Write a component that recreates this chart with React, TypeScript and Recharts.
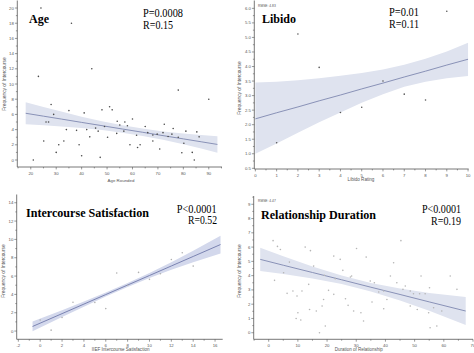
import React from 'react';
import { ComposedChart, Area, Line, Scatter, XAxis, YAxis } from 'recharts';

const SANS = '"Liberation Sans", Arial, sans-serif';
const SERIF = '"Liberation Serif", "Times New Roman", serif';
const AXIS = '#555';
const BORDER = '#b5b5b5';

// ---------- Panel 1: Age ----------
const ageX = [24, 36, 23, 44, 78, 90, 28, 51, 48, 52, 35, 29, 41, 26, 27, 60, 54, 57, 58, 55, 49, 72.5, 65, 76, 34, 42, 38, 45.5, 46.5, 81, 85.3, 56.6, 53.8, 66, 69.7, 68, 72, 74, 75.5, 86.2, 78, 61.6, 43.2, 50.2, 25.1, 33, 68, 80.2, 31, 39, 59, 63, 62, 30, 70.7, 79.4, 83.5, 40, 47.3, 21, 84.3];
const ageY = [20, 18, 11, 12, 9.2, 8, 7.3, 7, 6.6, 6.6, 6.5, 6, 6.2, 5, 5, 5.4, 5.1, 5, 4.5, 4.6, 4.4, 4.7, 4.4, 4.15, 4, 4, 3.9, 4.2, 3.8, 3.8, 3.7, 3.8, 3.5, 3.6, 3.4, 3.3, 3.6, 3.1, 3.4, 3.05, 3, 3.25, 3.05, 3, 2.5, 2.5, 2.5, 2.2, 2, 2, 2, 2, 1.65, 1, 1.45, 0.95, 1, 0.57, 0.35, 0, 0];
const ageFitX = [18, 25, 32, 40, 48, 56, 64, 72, 80, 87, 93.4];
const ageFit = [6.15, 5.77, 5.39, 4.95, 4.52, 4.08, 3.65, 3.21, 2.78, 2.4, 2.05];
const ageLo = [4.7, 4.57, 4.41, 4.2, 3.94, 3.6, 3.17, 2.66, 2.08, 1.52, 0.97];
const ageHi = [7.6, 6.97, 6.37, 5.7, 5.1, 4.56, 4.13, 3.76, 3.48, 3.28, 3.13];
const ageXTicks = [15, 20, 25, 30, 35, 40, 45, 50, 55, 60, 65, 70, 75, 80, 85, 90, 95];
const ageXMajor = [20, 30, 40, 50, 60, 70, 80, 90];
const ageYTicks = [0, 1, 2, 3, 4, 5, 6, 7, 8, 9, 10, 11, 12, 13, 14, 15, 16, 17, 18, 19, 20];
const ageYMajor = [0, 2, 4, 6, 8, 10, 12, 14, 16, 18, 20];

// ---------- Panel 2: Libido ----------
const libX = [1, 2, 3, 4, 5, 6, 7, 8, 9];
const libY = [1.38, 5.12, 3.97, 2.42, 2.6, 3.5, 3.05, 2.85, 5.9];
const libFitX = [0, 1, 2, 3, 4, 5, 6, 7, 8, 9, 10];
const libFit = [2.2, 2.41, 2.61, 2.82, 3.02, 3.23, 3.43, 3.64, 3.84, 4.05, 4.25];
const libLo = [1.0, 1.35, 1.72, 2.08, 2.42, 2.75, 3.05, 3.3, 3.48, 3.6, 3.67];
const libHi = [3.45, 3.48, 3.53, 3.6, 3.68, 3.78, 3.9, 4.06, 4.27, 4.52, 4.82];
const libXTicks = [0, 0.5, 1, 1.5, 2, 2.5, 3, 3.5, 4, 4.5, 5, 5.5, 6, 6.5, 7, 7.5, 8, 8.5, 9, 9.5, 10];
const libXMajor = [0, 1, 2, 3, 4, 5, 6, 7, 8, 9, 10];
const libYTicks = [0.5, 0.75, 1, 1.25, 1.5, 1.75, 2, 2.25, 2.5, 2.75, 3, 3.25, 3.5, 3.75, 4, 4.25, 4.5, 4.75, 5, 5.25, 5.5, 5.75, 6];
const libYMajor = [0.5, 1, 1.5, 2, 2.5, 3, 3.5, 4, 4.5, 5, 5.5, 6];

// ---------- Panel 3: Intercourse Satisfaction ----------
const satX = [0, 1, 2, 3, 5, 6, 7, 8, 9, 10, 11, 12, 13, 14];
const satY = [1.2, 0.1, 1.48, 3.15, 3.12, 2.45, 6.33, 5.0, 6.4, 5.64, 6.25, 7.8, 8.54, 7.09];
const satFitX = [-0.7, 2, 4, 6, 8, 10, 12, 14, 16.5];
const satFit = [0.5, 1.9, 2.94, 3.98, 5.02, 6.06, 7.1, 8.14, 9.44];
const satLo = [-0.03, 1.52, 2.66, 3.76, 4.8, 5.78, 6.68, 7.52, 8.47];
const satHi = [1.03, 2.28, 3.22, 4.2, 5.24, 6.34, 7.52, 8.76, 10.41];
const satXTicks = [-2, -1, 0, 1, 2, 3, 4, 5, 6, 7, 8, 9, 10, 11, 12, 13, 14, 15, 16];
const satXMajor = [-2, 0, 2, 4, 6, 8, 10, 12, 14, 16];
const satYTicks = [0, 1, 2, 3, 4, 5, 6, 7, 8, 9, 10, 11, 12, 13, 14];
const satYMajor = [0, 2, 4, 6, 8, 10, 12, 14];

// ---------- Panel 4: Relationship Duration ----------
const durX = [1.5, 3, 4, 12.5, 14.3, 30.1, 33.4, 45.3, 2, 5.1, 7.1, 6.3, 8.3, 9.7, 11.4, 13.7, 15.4, 10, 11, 9.4, 16.3, 18.3, 17.4, 19.4, 20.5, 22.8, 22.3, 19.1, 22.3, 24.5, 25.4, 28, 26.3, 27.2, 29.1, 28.4, 31.6, 32.5, 34.8, 36.2, 37.7, 35.4, 39.4, 40.5, 39.4, 41.7, 42.8, 43.9, 46, 46.8, 48.5, 49.6, 48.5, 50.9, 51.7, 53.6, 55.1, 52.2, 54.8, 56.5, 55.3, 57.6, 59.3, 62.2, 64.5, 14, 18.8];
const durY = [6.45, 6.05, 5.83, 6.0, 5.75, 5.9, 5.3, 6.45, 3.67, 4.2, 4.95, 2.76, 2.92, 2.57, 2.92, 3.39, 4.67, 1.4, 0.89, 1.0, 1.52, 1.87, 0.0, 0.47, 2.97, 3.79, 2.69, 4.02, 5.37, 5.14, 4.37, 3.9, 2.38, 1.92, 1.52, 3.97, 1.4, 0.82, 3.62, 3.5, 2.85, 2.15, 2.92, 2.33, 1.68, 3.97, 4.9, 3.5, 3.04, 3.27, 2.92, 2.73, 1.87, 1.63, 2.73, 2.73, 3.15, 3.97, 1.4, 1.75, 0.35, 0.47, 1.52, 3.97, 3.04, 1.63, 2.33];
const durFitX = [-2.9, 5, 15, 25, 35, 45, 55, 67.5];
const durFit = [5.14, 4.73, 4.22, 3.71, 3.19, 2.68, 2.16, 1.52];
const durLo = [4.32, 4.11, 3.8, 3.41, 2.89, 2.26, 1.54, 0.54];
const durHi = [5.96, 5.35, 4.64, 4.01, 3.49, 3.1, 2.78, 2.5];
const durXTicks = [-5, 0, 5, 10, 15, 20, 25, 30, 35, 40, 45, 50, 55, 60, 65, 70];
const durXMajor = [0, 10, 20, 30, 40, 50, 60, 70];
const durYTicks = [0, 0.5, 1, 1.5, 2, 2.5, 3, 3.5, 4, 4.5, 5, 5.5, 6, 6.5, 7, 7.5, 8, 8.5, 9, 9.5];
const durYMajor = [0, 1, 2, 3, 4, 5, 6, 7, 8, 9];

const isMajor = (majors: number[], v: number) => majors.some((m) => Math.abs(m - v) < 1e-9);

function makeXTick(majors: number[], fmt: (v: number) => string) {
  return (p: any) => {
    const v = p.payload.value;
    const mj = isMajor(majors, v);
    return (
      <g>
        <line x1={p.x} x2={p.x} y1={p.y} y2={p.y + (mj ? 2.4 : 1.4)} stroke={AXIS} strokeWidth={0.6} />
        {mj && (
          <text x={p.x} y={p.y + 7.6} textAnchor="middle" fontSize={4.3} fill="#555" fontFamily={SANS}>
            {fmt(v)}
          </text>
        )}
      </g>
    );
  };
}

function makeYTick(majors: number[], fmt: (v: number) => string) {
  return (p: any) => {
    const v = p.payload.value;
    const mj = isMajor(majors, v);
    return (
      <g>
        <line x1={p.x} x2={p.x - (mj ? 2.4 : 1.4)} y1={p.y} y2={p.y} stroke={AXIS} strokeWidth={0.6} />
        {mj && (
          <text x={p.x - 3.4} y={p.y + 1.5} textAnchor="end" fontSize={4.3} fill="#555" fontFamily={SANS}>
            {fmt(v)}
          </text>
        )}
      </g>
    );
  };
}

type Box = { left: number; top: number; w: number; h: number };
type Plot = { x0: number; y0: number; x1: number; y1: number };

function Panel(props: {
  box: Box;
  plot: Plot;
  xDomain: [number, number];
  yDomain: [number, number];
  xTicks: number[];
  xMajor: number[];
  yTicks: number[];
  yMajor: number[];
  yFmt: (v: number) => string;
  px: number[];
  py: number[];
  fx: number[];
  fit: number[];
  lo: number[];
  hi: number[];
  dotColor: string;
  fill: string;
  stroke: string;
}) {
  const { box, plot } = props;
  const margin = { top: plot.y0 - box.top, right: box.left + box.w - plot.x1, bottom: 0, left: 0 };
  const yW = plot.x0 - box.left;
  const xH = box.top + box.h - plot.y1;
  const band = props.fx.map((x, i) => ({ x, band: [props.lo[i], props.hi[i]], fit: props.fit[i] }));
  const pts = props.px.map((x, i) => ({ x, y: props.py[i] }));
  const dot = (p: any) => <circle cx={p.cx} cy={p.cy} r={0.8} fill={props.dotColor} />;
  return (
    <div style={{ position: 'absolute', left: box.left, top: box.top, width: box.w, height: box.h }}>
      <ComposedChart width={box.w} height={box.h} data={band} margin={margin}>
        <XAxis
          xAxisId="b"
          type="number"
          dataKey="x"
          domain={props.xDomain}
          allowDataOverflow
          ticks={props.xTicks}
          interval={0}
          tickSize={0}
          tickMargin={0}
          tickLine={false}
          axisLine={{ stroke: AXIS, strokeWidth: 0.8 }}
          tick={makeXTick(props.xMajor, (v) => String(v))}
          height={xH}
        />
        <XAxis
          xAxisId="t"
          orientation="top"
          type="number"
          dataKey="x"
          domain={props.xDomain}
          allowDataOverflow
          height={0}
          tick={false}
          tickLine={false}
          axisLine={{ stroke: BORDER, strokeWidth: 1.2 }}
        />
        <YAxis
          yAxisId="l"
          type="number"
          domain={props.yDomain}
          allowDataOverflow
          ticks={props.yTicks}
          interval={0}
          tickSize={0}
          tickMargin={0}
          tickLine={false}
          axisLine={{ stroke: AXIS, strokeWidth: 0.8 }}
          tick={makeYTick(props.yMajor, props.yFmt)}
          width={yW}
        />
        <YAxis
          yAxisId="r"
          orientation="right"
          type="number"
          domain={props.yDomain}
          allowDataOverflow
          width={0}
          tick={false}
          tickLine={false}
          axisLine={{ stroke: BORDER, strokeWidth: 1 }}
        />
        <Area
          xAxisId="b"
          yAxisId="l"
          type="linear"
          dataKey="band"
          stroke="none"
          fill={props.fill}
          fillOpacity={1}
          dot={false}
          activeDot={false}
          isAnimationActive={false}
        />
        <Line
          xAxisId="b"
          yAxisId="l"
          type="linear"
          dataKey="fit"
          stroke={props.stroke}
          strokeWidth={0.9}
          dot={false}
          activeDot={false}
          isAnimationActive={false}
        />
        <Scatter xAxisId="b" yAxisId="l" data={pts} dataKey="y" shape={dot} isAnimationActive={false} />
      </ComposedChart>
    </div>
  );
}

function Overlay() {
  const t = { fontFamily: SERIF, fill: '#000' } as const;
  const s = { fontFamily: SANS, fill: '#555' } as const;
  return (
    <svg width={474} height={353} style={{ position: 'absolute', left: 0, top: 0, pointerEvents: 'none' }}>
      {/* Panel 1 */}
      <text x={29} y={22.7} fontSize={13.5} fontWeight="bold" textLength={20} lengthAdjust="spacingAndGlyphs" {...t}>Age</text>
      <text x={143} y={17.3} fontSize={11.5} textLength={40} lengthAdjust="spacingAndGlyphs" {...t}>P=0.0008</text>
      <text x={143} y={29} fontSize={11.5} textLength={30} lengthAdjust="spacingAndGlyphs" {...t}>R=0.15</text>
      <text x={121} y={181.5} fontSize={4.4} textAnchor="middle" {...s}>Age Rounded</text>
      <text transform="translate(5.5,84) rotate(-90)" fontSize={4.8} textAnchor="middle" {...s}>Frequency of Intercourse</text>

      {/* Panel 2 */}
      <text x={258} y={7.3} fontSize={3.3} {...s}>RMSE: 4.83</text>
      <text x={262} y={23.3} fontSize={13.5} fontWeight="bold" textLength={34} lengthAdjust="spacingAndGlyphs" {...t}>Libido</text>
      <text x={389} y={15.7} fontSize={11.5} textLength={30} lengthAdjust="spacingAndGlyphs" {...t}>P=0.01</text>
      <text x={389} y={28} fontSize={11.5} textLength={30} lengthAdjust="spacingAndGlyphs" {...t}>R=0.11</text>
      <text x={361} y={181} fontSize={4.6} textAnchor="middle" {...s}>Libido Rating</text>
      <text transform="translate(241,88) rotate(-90)" fontSize={4.8} textAnchor="middle" {...s}>Frequency of Intercourse</text>

      {/* Panel 3 */}
      <text x={26} y={217} fontSize={13.5} fontWeight="bold" textLength={123} lengthAdjust="spacingAndGlyphs" {...t}>Intercourse Satisfaction</text>
      <text x={216.7} y={212.7} fontSize={11.5} textAnchor="end" textLength={40} lengthAdjust="spacingAndGlyphs" {...t}>P&lt;0.0001</text>
      <text x={217} y={224.3} fontSize={11.5} textAnchor="end" textLength={29} lengthAdjust="spacingAndGlyphs" {...t}>R=0.52</text>
      <text x={120.7} y={351.3} fontSize={4.6} textAnchor="middle" {...s}>IIEF Intercourse Satisfaction</text>
      <text transform="translate(4.5,271) rotate(-90)" fontSize={4.8} textAnchor="middle" {...s}>Frequency of Intercourse</text>

      {/* Panel 4 */}
      <text x={258} y={201.8} fontSize={3.3} {...s}>RMSE: 4.47</text>
      <text x={261} y={219} fontSize={13.5} fontWeight="bold" textLength={115} lengthAdjust="spacingAndGlyphs" {...t}>Relationship Duration</text>
      <text x={461} y={212.7} fontSize={11.5} textAnchor="end" textLength={39} lengthAdjust="spacingAndGlyphs" {...t}>P&lt;0.0001</text>
      <text x={461} y={224.7} fontSize={11.5} textAnchor="end" textLength={30} lengthAdjust="spacingAndGlyphs" {...t}>R=0.19</text>
      <text x={358.7} y={351} fontSize={4.5} textAnchor="middle" {...s}>Duration of Relationship</text>
      <text transform="translate(241,271) rotate(-90)" fontSize={4.8} textAnchor="middle" {...s}>Frequency of Intercourse</text>
    </svg>
  );
}

export default function App() {
  const f1 = (v: number) => String(v);
  const f2 = (v: number) => v.toFixed(1);
  return (
    <div style={{ position: 'absolute', left: 0, top: 0, width: 474, height: 353, background: '#fff', overflow: 'hidden' }}>
      <Panel
        box={{ left: 0, top: 0, w: 237, h: 190 }}
        plot={{ x0: 17.3, y0: 0.5, x1: 222, y1: 167 }}
        xDomain={[14.7, 95.2]}
        yDomain={[-0.92, 20.99]}
        xTicks={ageXTicks}
        xMajor={ageXMajor}
        yTicks={ageYTicks}
        yMajor={ageYMajor}
        yFmt={f1}
        px={ageX}
        py={ageY}
        fx={ageFitX}
        fit={ageFit}
        lo={ageLo}
        hi={ageHi}
        dotColor="#4a4a4a"
        fill="#dfe3ef"
        stroke="#7f88b0"
      />
      <Panel
        box={{ left: 237, top: 0, w: 237, h: 190 }}
        plot={{ x0: 254.3, y0: 0.5, x1: 468.7, y1: 169 }}
        xDomain={[-0.05, 10.03]}
        yDomain={[0.476, 6.27]}
        xTicks={libXTicks}
        xMajor={libXMajor}
        yTicks={libYTicks}
        yMajor={libYMajor}
        yFmt={f2}
        px={libX}
        py={libY}
        fx={libFitX}
        fit={libFit}
        lo={libLo}
        hi={libHi}
        dotColor="#555"
        fill="#dfe3ef"
        stroke="#7f88b0"
      />
      <Panel
        box={{ left: 0, top: 190, w: 237, h: 163 }}
        plot={{ x0: 16.7, y0: 194.5, x1: 222.7, y1: 339.3 }}
        xDomain={[-2.15, 16.7]}
        yDomain={[-0.9, 14.9]}
        xTicks={satXTicks}
        xMajor={satXMajor}
        yTicks={satYTicks}
        yMajor={satYMajor}
        yFmt={f1}
        px={satX}
        py={satY}
        fx={satFitX}
        fit={satFit}
        lo={satLo}
        hi={satHi}
        dotColor="#b0b0b0"
        fill="#d3d8ec"
        stroke="#7079aa"
      />
      <Panel
        box={{ left: 237, top: 190, w: 237, h: 163 }}
        plot={{ x0: 253.7, y0: 196, x1: 473, y1: 339.3 }}
        xDomain={[-5.14, 70.0]}
        yDomain={[-0.46, 9.58]}
        xTicks={durXTicks}
        xMajor={durXMajor}
        yTicks={durYTicks}
        yMajor={durYMajor}
        yFmt={f1}
        px={durX}
        py={durY}
        fx={durFitX}
        fit={durFit}
        lo={durLo}
        hi={durHi}
        dotColor="#b5b5b5"
        fill="#dfe3ef"
        stroke="#7f88b0"
      />
      <Overlay />
    </div>
  );
}
